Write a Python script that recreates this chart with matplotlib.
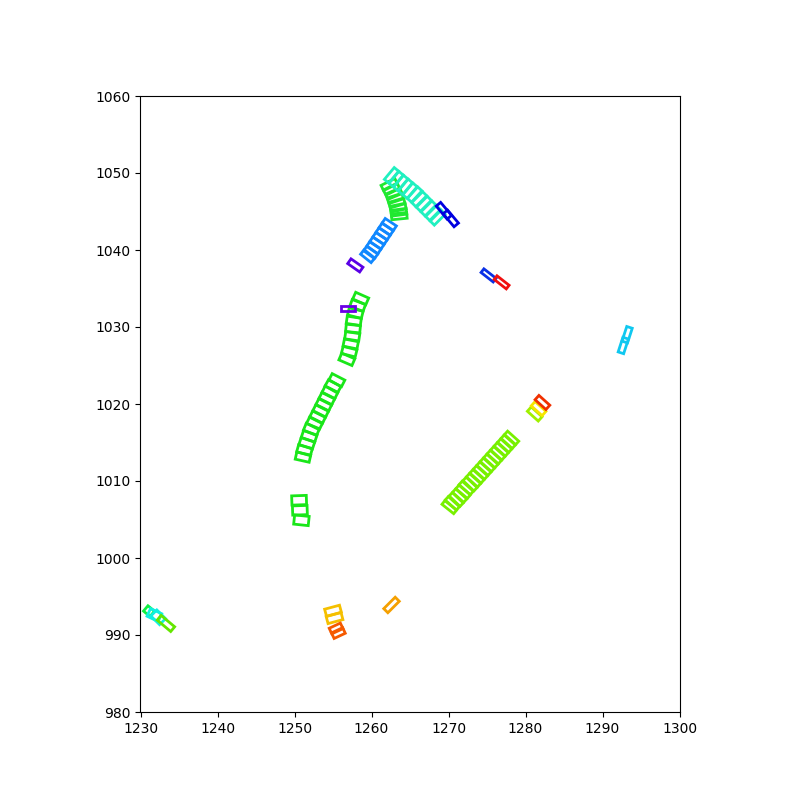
import numpy as np
import matplotlib
matplotlib.use("Agg")
import matplotlib.pyplot as plt
from matplotlib.patches import Rectangle

# ---- box centres (x, y) per track ----
green_x = [1251.1, 1251.3, 1251.6, 1251.9, 1252.2, 1252.6, 1253.0, 1253.4, 1253.8, 1254.2, 1254.6, 1255.0, 1255.5,
           1256.8, 1257.1, 1257.3, 1257.5, 1257.6, 1257.7, 1257.9, 1258.2, 1258.6]
green_y = [1013.1, 1014.0, 1014.9, 1015.8, 1016.7, 1017.5, 1018.3, 1019.1, 1019.9, 1020.7, 1021.5, 1022.3, 1023.1,
           1025.8, 1026.8, 1027.8, 1028.8, 1029.8, 1030.8, 1031.8, 1032.8, 1033.7]

green2_x = [1250.6, 1250.7, 1250.9]
green2_y = [1007.5, 1006.2, 1004.9]
green2_h = [92, 92, 84]

purple1_x, purple1_y, purple1_h = [1256.9], [1032.4], [0]
purple2_x, purple2_y, purple2_h = [1257.9], [1038.0], [-35]

dodger_x = [1259.5, 1259.9, 1260.3, 1260.7, 1261.1, 1261.5, 1261.9, 1262.3]
dodger_y = [1039.2, 1039.7, 1040.3, 1040.9, 1041.5, 1042.1, 1042.7, 1043.3]

spring_x = [1262.3, 1262.6, 1262.9, 1263.1, 1263.3, 1263.45, 1263.55, 1263.6]
spring_y = [1048.5, 1047.9, 1047.3, 1046.7, 1046.1, 1045.5, 1044.9, 1044.4]

aqua_x = [1262.6, 1263.2, 1263.8, 1264.4, 1265.0, 1265.6, 1266.2, 1266.8, 1267.4, 1268.0, 1268.6]
aqua_y = [1049.7, 1049.2, 1048.7, 1048.2, 1047.7, 1047.2, 1046.6, 1046.0, 1045.4, 1044.8, 1044.2]

blue_x, blue_y, blue_h = [1269.4, 1270.3], [1045.1, 1044.1], [-50, -50]
blue2_x, blue2_y, blue2_h = [1275.2], [1036.7], [-38]
red_x, red_y, red_h = [1276.9], [1035.8], [-38]

sky_x, sky_y, sky_h = [1293.2, 1292.7], [1029.0, 1027.6], [72, 72]

lime_x = [1270.1, 1270.5, 1271.0, 1271.45, 1271.9, 1272.3, 1272.8, 1273.25, 1273.7, 1274.15,
          1274.6, 1275.05, 1275.5, 1275.95, 1276.4, 1276.85, 1277.3, 1277.75, 1278.2]
lime_y = [1006.6, 1007.1, 1007.6, 1008.1, 1008.6, 1009.1, 1009.6, 1010.1, 1010.6, 1011.1,
          1011.6, 1012.1, 1012.6, 1013.1, 1013.6, 1014.1, 1014.6, 1015.1, 1015.6]

ygreen_x, ygreen_y, ygreen_h = [1281.2], [1018.7], [48]
yellow_x, yellow_y, yellow_h = [1281.7], [1019.4], [48]
redor_x, redor_y, redor_h = [1282.2], [1020.2], [48]

bl_green_x, bl_green_y, bl_green_h = [1231.1], [993.1], [-40]
bl_cyan_x, bl_cyan_y, bl_cyan_h = [1231.8, 1232.3], [992.6, 992.3], [-25, -45]
bl_lime_x, bl_lime_y, bl_lime_h = [1233.3], [991.5], [-40]

gold_x, gold_y, gold_h = [1255.0, 1255.2], [993.15, 992.2], [-75, -75]
orred_x, orred_y, orred_h = [1255.4, 1255.7], [990.85, 990.25], [-65, -65]
orange_x, orange_y, orange_h = [1262.6], [993.9], [45]

# (xs, ys, headings or None -> along track, length along heading, width across, colour)
tracks = [
    (green_x, green_y, None, 0.95, 1.85, '#19e619'),
    (green2_x, green2_y, green2_h, 1.2, 1.9, '#19e619'),
    (purple1_x, purple1_y, purple1_h, 1.8, 0.65, '#6a00e6'),
    (purple2_x, purple2_y, purple2_h, 1.9, 0.75, '#5a00e6'),
    (dodger_x, dodger_y, None, 0.75, 1.75, '#1088ff'),
    (spring_x, spring_y, None, 0.75, 2.0, '#20e830'),
    (aqua_x, aqua_y, None, 0.75, 2.0, '#20f0c0'),
    (blue_x, blue_y, blue_h, 2.2, 0.75, '#0000e0'),
    (blue2_x, blue2_y, blue2_h, 2.0, 0.6, '#0a30e6'),
    (red_x, red_y, red_h, 2.0, 0.6, '#f01010'),
    (sky_x, sky_y, sky_h, 2.0, 0.75, '#10c8f0'),
    (lime_x, lime_y, None, 0.6, 1.95, '#78f000'),
    (ygreen_x, ygreen_y, ygreen_h, 0.75, 1.9, '#a0f000'),
    (yellow_x, yellow_y, yellow_h, 0.75, 1.9, '#f5e600'),
    (redor_x, redor_y, redor_h, 0.75, 1.9, '#f03000'),
    (bl_green_x, bl_green_y, bl_green_h, 1.1, 0.9, '#10f040'),
    (bl_cyan_x, bl_cyan_y, bl_cyan_h, 1.6, 1.1, '#10f0e0'),
    (bl_lime_x, bl_lime_y, bl_lime_h, 2.3, 0.8, '#64e600'),
    (gold_x, gold_y, gold_h, 0.95, 2.0, '#f5c000'),
    (orred_x, orred_y, orred_h, 0.8, 1.6, '#f55a00'),
    (orange_x, orange_y, orange_h, 2.1, 0.75, '#f5a000'),
]

fig, ax = plt.subplots(figsize=(8, 8), dpi=100)

for xs, ys, hs, L, W, col in tracks:
    xs = np.asarray(xs, float)
    ys = np.asarray(ys, float)
    if hs is None:
        hs = np.degrees(np.arctan2(np.gradient(ys), np.gradient(xs)))
    for cx, cy, h in zip(xs, ys, hs):
        ax.add_patch(Rectangle((cx - L / 2, cy - W / 2), L, W, angle=h,
                               rotation_point='center', fill=False,
                               edgecolor=col, linewidth=2))

ax.set_xlim(1230, 1300)
ax.set_ylim(980, 1060)
ax.set_aspect('equal')
fig.savefig('out.png', dpi=100)
